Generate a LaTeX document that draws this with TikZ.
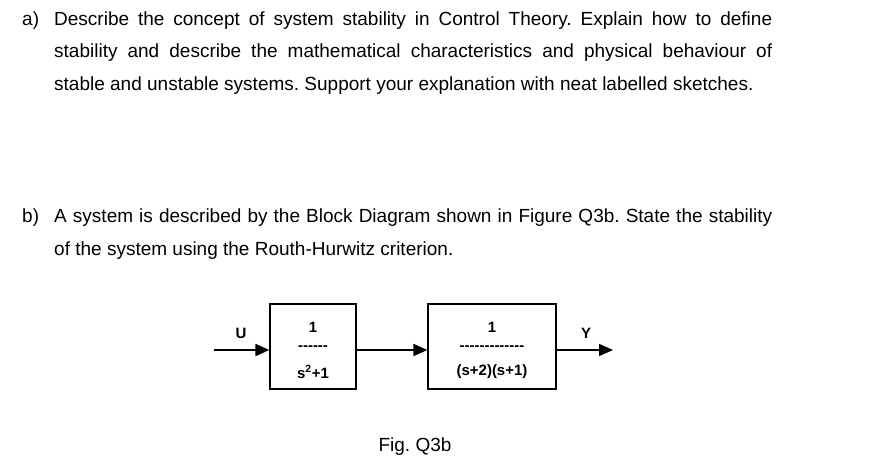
\documentclass[tikz,border=0pt]{standalone}
\usepackage{fontspec}
\setmainfont{Liberation Sans}[Ligatures=NoCommon]
\usetikzlibrary{arrows.meta}
\frenchspacing
\begin{document}
\begin{tikzpicture}[x=1pt,y=-1pt,
  txt/.style={anchor=base west,inner sep=0pt,font=\fontsize{19}{21}\selectfont},
  blk/.style={draw,line width=1.2pt,minimum width=86pt,minimum height=85pt,inner sep=0pt},
  lbl/.style={font=\bfseries\fontsize{15}{17}\selectfont,inner sep=0pt},
  arr/.style={line width=1.8pt,-{Triangle[length=14pt,width=12pt]}}]
\useasboundingbox (0,0) rectangle (889,471);
\node[txt] (a) at (22,25) {a)};
\node[txt] (a1) at (54,25) {\makebox[718pt][s]{Describe the concept of system stability in Control Theory. Explain how to define}};
\node[txt] (a2) at (54,57) {\makebox[718pt][s]{stability and describe the mathematical characteristics and physical behaviour of}};
\node[txt] (a3) at (54,90) {stable and unstable systems. Support your explanation with neat labelled sketches.};
\node[txt] (b) at (22,222) {b)};
\node[txt] (b1) at (54,222) {\makebox[718pt][s]{A system is described by the Block Diagram shown in Figure Q3b. State the stability}};
\node[txt] (b2) at (54,255) {of the system using the Routh-Hurwitz criterion.};
\node[blk] (g1) at (313,346.5) {};
\node[blk,minimum width=128pt] (g2) at (492,346.5) {};
\node[lbl] (n1) at (313,327) {1};
\node[lbl] (d1) at (313,348) {-{}-{}-{}-{}-{}-};
\node[lbl] (m1) at (313,372) {s\textsuperscript{2}+1};
\node[lbl] (n2) at (492,327) {1};
\node[lbl] (d2) at (492,348) {-{}-{}-{}-{}-{}-{}-{}-{}-{}-{}-{}-{}-};
\node[lbl] (m2) at (492,372) {(s+2)(s+1)};
\coordinate (in) at (214,350);
\coordinate (out) at (613,350);
\draw[arr] (in) -- (in -| g1.west);
\draw[arr] (g1.east |- in) -- (g2.west |- in);
\draw[arr] (g2.east |- in) -- (out);
\node[lbl] (U) at (241,333) {U};
\node[lbl] (Y) at (586,333) {Y};
\node[txt,anchor=base] (fig) at (415,451) {Fig. Q3b};
\end{tikzpicture}
\end{document}
